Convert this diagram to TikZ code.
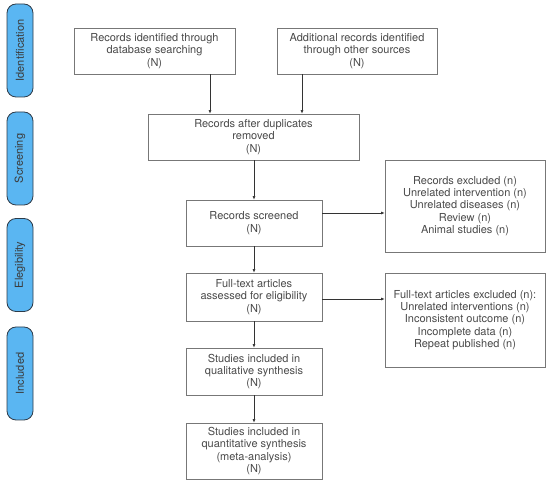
\documentclass[tikz,border=0pt]{standalone}
\usepackage{fontspec}
\setmainfont{TeX Gyre Heros}
\usetikzlibrary{arrows.meta}
\definecolor{sideblue}{HTML}{5AB6F2}
\definecolor{sideedge}{HTML}{2E3B48}
\definecolor{txt}{HTML}{4A4A4A}
\definecolor{boxedge}{HTML}{777777}
\tikzset{
  box/.style={draw=boxedge, line width=0.7pt, fill=white, inner sep=0pt, align=center,
    text=txt, font=\fontsize{11}{12.4}\selectfont},
  side/.style={draw=sideedge, line width=0.8pt, fill=sideblue, rounded corners=9pt,
    minimum width=93pt, minimum height=26pt, inner sep=0pt, rotate=90,
    text=txt!80!black, font=\fontsize{11}{12}\selectfont},
  arr/.style={-{Latex[length=3.5pt,width=3pt]}, line width=0.6pt, draw=black!80}
}
\begin{document}
\begin{tikzpicture}[x=1pt,y=-1pt]
\useasboundingbox (0,0) rectangle (550,486);
% side labels
\node[side] (s1) at (20,50.5) {Identification};
\node[side] (s2) at (20,158.5) {Screening};
\node[side] (s3) at (20,265) {Elegibility};
\node[side] (s4) at (20,373.5) {Included};
% boxes
\node[box, minimum width=161pt, minimum height=46pt] (A) at (154.5,51) {Records identified through\\database searching\\(N)};
\node[box, minimum width=160pt, minimum height=46pt] (B) at (357,51) {Additional records identified\\through other sources\\(N)};
\node[box, minimum width=211pt, minimum height=46pt] (C) at (253.5,137) {Records after duplicates\\removed\\(N)};
\node[box, minimum width=136pt, minimum height=46pt] (D) at (254,223) {Records screened\\(N)};
\node[box, minimum width=160pt, minimum height=92pt] (E) at (465,206) {Records excluded (n)\\Unrelated intervention (n)\\Unrelated diseases (n)\\Review (n)\\Animal studies (n)};
\node[box, minimum width=136pt, minimum height=48pt] (F) at (254,297) {Full-text articles\\assessed for eligibility\\(N)};
\node[box, minimum width=160pt, minimum height=94pt] (G) at (465,320) {Full-text articles excluded (n):\\Unrelated interventions (n)\\Inconsistent outcome (n)\\Incomplete data (n)\\Repeat published (n)};
\node[box, minimum width=136pt, minimum height=47pt] (H) at (254,371.5) {Studies included in\\qualitative synthesis\\(N)};
\node[box, minimum width=136pt, minimum height=56pt] (I) at (254,451) {Studies included in\\quantitative synthesis\\(meta-analysis)\\(N)};
% connector guides
\coordinate (xa) at (210,0);
\coordinate (xb) at (302,0);
\coordinate (yd) at (0,213);
\coordinate (yf) at (0,299);
% connectors
\draw[arr] (A.south -| xa) -- (C.north -| xa);
\draw[arr] (B.south -| xb) -- (C.north -| xb);
\draw[arr] (C.south -| D.north) -- (D.north);
\draw[arr] (D.east |- yd) -- (E.west |- yd);
\draw[arr] (D.south) -- (F.north);
\draw[arr] (F.east |- yf) -- (G.west |- yf);
\draw[arr] (F.south) -- (H.north);
\draw[arr] (H.south) -- (I.north);
\end{tikzpicture}
\end{document}
